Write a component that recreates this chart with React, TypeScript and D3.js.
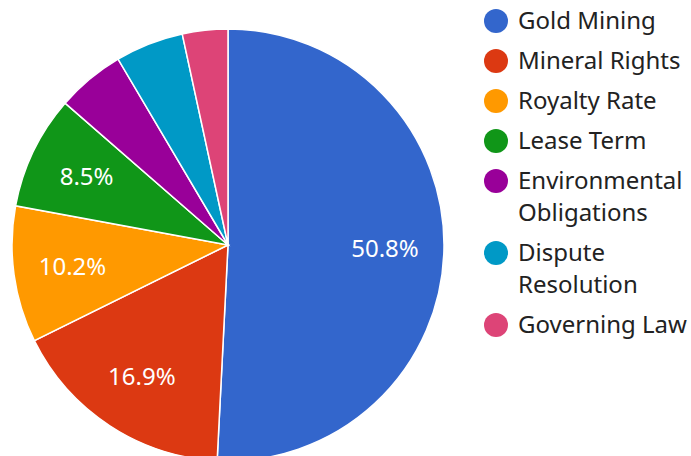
import React, { useRef, useEffect } from 'react';
import * as d3 from 'd3';

const categories = [
  'Gold Mining',
  'Mineral Rights',
  'Royalty Rate',
  'Lease Term',
  'Environmental Obligations',
  'Dispute Resolution',
  'Governing Law'
];
const values = [50.8, 16.9, 10.2, 8.5, 5.1, 5.1, 3.4];
const colors = ['#3366cc', '#dc3912', '#ff9900', '#109618', '#990099', '#0099c6', '#dd4477'];

interface Slice {
  name: string;
  value: number;
  color: string;
}

const data: Slice[] = categories.map((name, i) => ({ name, value: values[i], color: colors[i] }));

export default function App() {
  const svgRef = useRef<SVGSVGElement>(null);
  const width = 691;
  const height = 456;

  useEffect(() => {
    const svg = d3.select(svgRef.current);
    svg.selectAll('*').remove();

    const cx = 228;
    const cy = 245;
    const radius = 216;
    const font = '"Noto Sans", "Open Sans", sans-serif';

    const total = d3.sum(data, d => d.value);
    const pie = d3.pie<Slice>().value(d => d.value).sort(null);
    const arc = d3.arc<d3.PieArcDatum<Slice>>().innerRadius(0).outerRadius(radius);
    const labelArc = d3.arc<d3.PieArcDatum<Slice>>().innerRadius(157).outerRadius(157);

    const g = svg.append('g').attr('transform', `translate(${cx},${cy})`);
    const arcs = pie(data);

    g.selectAll('path')
      .data(arcs)
      .enter()
      .append('path')
      .attr('d', arc)
      .attr('fill', d => d.data.color)
      .attr('stroke', '#fff')
      .attr('stroke-width', 1.5);

    // percentage labels on the larger slices
    g.selectAll('text')
      .data(arcs.filter(d => d.data.value / total > 0.07))
      .enter()
      .append('text')
      .attr('transform', d => `translate(${labelArc.centroid(d)})`)
      .attr('text-anchor', 'middle')
      .attr('dy', '0.35em')
      .attr('fill', '#fff')
      .style('font-family', font)
      .style('font-size', '24px')
      .text(d => `${((d.data.value / total) * 100).toFixed(1)}%`);

    // Legend
    const legend = svg.append('g').attr('transform', 'translate(496,21)');
    const maxTextWidth = 180;
    let y = 0;
    data.forEach(d => {
      const item = legend.append('g').attr('transform', `translate(0,${y})`);
      item.append('circle').attr('r', 12).attr('fill', d.color);
      const text = item.append('text')
        .attr('fill', '#222')
        .style('font-family', font)
        .style('font-size', '24px');

      // simple word wrap
      const words = d.name.split(' ');
      let line: string[] = [];
      let lineNo = 0;
      let tspan = text.append('tspan').attr('x', 22).attr('dy', '0.35em');
      words.forEach(w => {
        line.push(w);
        tspan.text(line.join(' '));
        const node = tspan.node() as SVGTSpanElement;
        if (node.getComputedTextLength() > maxTextWidth && line.length > 1) {
          line.pop();
          tspan.text(line.join(' '));
          line = [w];
          lineNo++;
          tspan = text.append('tspan').attr('x', 22).attr('dy', '32px').text(w);
        }
      });
      y += 40 + lineNo * 32;
    });
  }, []);

  return (
    <div style={{ position: 'absolute', left: 0, top: 0 }}>
      <svg ref={svgRef} width={width} height={height} style={{ display: 'block' }} />
    </div>
  );
}
